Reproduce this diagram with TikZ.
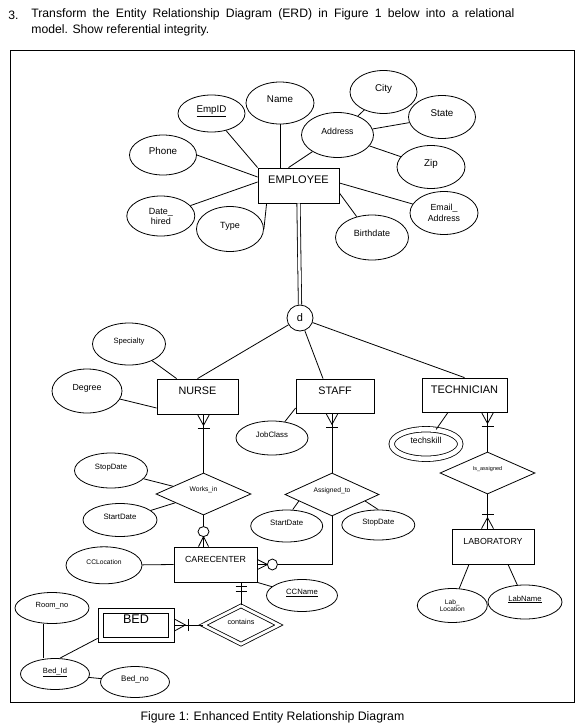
\documentclass[tikz,border=0pt]{standalone}
\usepackage{fontspec}
\setmainfont{Liberation Sans}
\usetikzlibrary{shapes.geometric, calc}
\newcommand{\fsz}[1]{\fontsize{#1}{#1}\selectfont}
\tikzset{
  entity/.style 2 args     = {rectangle, draw, minimum width=#1pt, minimum height=#2pt,
                              inner sep=0pt, text height=7pt, text depth=11pt,
                              font=\fsz{11}},
  weakentity/.style 2 args = {entity={#1}{#2},
                              path picture={\draw ([shift={(5.5,5)}]path picture bounding box.north west)
                                rectangle ([shift={(-5.5,-5)}]path picture bounding box.south east);}},
  attr/.style 2 args       = {ellipse, draw, minimum width=#1pt, minimum height=#2pt,
                              inner sep=0pt, text height=6pt, text depth=8pt,
                              font=\fsz{9.8}},
  attrml/.style 2 args     = {ellipse, draw, minimum width=#1pt, minimum height=#2pt,
                              inner sep=0pt, align=center, font=\fsz{9}},
  multiattr/.style 2 args  = {attr={#1}{#2}, double, double distance=4.6pt},
  rel/.style 2 args        = {diamond, aspect=2.2, draw, minimum width=#1pt,
                              minimum height=#2pt, inner sep=0pt, text height=5pt,
                              text depth=10pt, font=\fsz{6.7}},
  weakrel/.style 2 args    = {rel={#1}{#2}, double, double distance=2.8pt},
  isa/.style               = {circle, draw, minimum size=26pt, inner sep=0pt,
                              font=\fsz{11}},
  % cardinality marks, drawn outward from the entity border
  pics/onemany/.style      = {code={\draw (-6,0) -- (0,11) -- (6,0);
                                    \draw (-6,14) -- (6,14);}},
  pics/zeromany/.style     = {code={\draw (-5,0) -- (0,10) -- (5,0);
                                    \draw[fill=white] (0,15) ellipse [x radius=5.5, y radius=5];}},
  pics/oneone/.style       = {code={\draw (-5.5,4) -- (5.5,4) (-5.5,9) -- (5.5,9);}},
}

\begin{document}
\begin{tikzpicture}[x=1pt, y=-1pt, line width=0.8pt]
  \useasboundingbox (0,0) rectangle (577,723);

  %─── Question text ─────────────────────────────────────────────────────────
  \node[anchor=north west, inner sep=0pt, font=\fontsize{12.2}{16}\selectfont] at (8,10.5) (num) {3.};
  \node[anchor=north west, inner sep=0pt, text width=483pt, align=justify,
        font=\fontsize{12.2}{16}\selectfont] at (31,8) (task)
        {Transform the Entity Relationship Diagram (ERD) in Figure 1 below into a relational\linebreak
         model. Show referential integrity.};

  %─── Frame and caption ─────────────────────────────────────────────────────
  \draw (10,50) rectangle (574,702);
  \node[font=\fsz{12.3}] at (272.5,717) (caption) {Figure 1: Enhanced Entity Relationship Diagram};

  %─── EMPLOYEE and its attributes ───────────────────────────────────────────
  \node[entity={81}{35}] at (298.5,185.5) (employee) {EMPLOYEE};
  \node[attr={67}{37}]  at (211.5,113.5) (empid)     {\underline{EmpID}};
  \node[attr={68}{42}]  at (280,103)     (name)      {Name};
  \node[attr={67}{43}]  at (383.5,92)    (city)      {City};
  \node[attr={67}{43}]  at (442,117)     (state)     {State};
  \node[attr={72}{45}, font=\fsz{8.8}] at (337.5,135) (address) {Address};
  \node[attr={68}{43}]  at (431,167)     (zip)       {Zip};
  \node[attr={67}{40}]  at (163,155)     (phone)     {Phone};
  \node[attrml={68}{40}] at (160.8,216)  (datehired) {Date\_\\[1pt]hired};
  \node[attr={67}{45}, font=\fsz{9}] at (230,229)     (type)      {Type};
  \node[attr={73}{45}, font=\fsz{9}] at (372,237.5)   (birthdate) {Birthdate};
  \node[attrml={68}{43}, font=\fsz{8.8}] at (444,213) (email) {Email\_\\[1.5pt]Address};

  %─── Disjoint specialisation ───────────────────────────────────────────────
  \node[isa] at (300,318) (disjoint) {d};
  \node[entity={81}{35}, font=\fsz{10.8}] at (197.5,396.5) (nurse)      {NURSE};
  \node[entity={78}{34}, font=\fsz{10.8}] at (335,396)     (staff)      {STAFF};
  \node[entity={85}{34}]                  at (464.5,395)   (technician) {TECHNICIAN};

  %─── Subtype attributes ────────────────────────────────────────────────────
  \node[attr={73}{42}, font=\fsz{7.6}] at (129,344)   (specialty) {Specialty};
  \node[attr={70}{44}, font=\fsz{8.8}] at (87,391)    (degree)    {Degree};
  \node[attr={72}{34}, font=\fsz{7.8}] at (272,438)   (jobclass)  {JobClass};
  \node[multiattr={68.5}{29.5}, font=\fsz{8.7}] at (426,444) (techskill) {techskill};

  %─── Relationships ─────────────────────────────────────────────────────────
  \node[rel={95}{42}] at (203.5,494) (worksin)    {Works\_in};
  \node[rel={94}{43}] at (332,494.5) (assignedto) {Assigned\_to};
  \node[rel={95}{42}, font=\fsz{5.5}] at (487.5,473) (isassigned) {Is\_assigned};
  \node[weakrel={76}{38.5}, font=\fsz{7.2}, text depth=6pt] at (241,625) (contains) {contains};

  \node[attr={73}{35}, font=\fsz{7.7}] at (111,470.5) (stopdatea)  {StopDate};
  \node[attr={74}{33}, font=\fsz{7.8}] at (120,520)   (startdatea) {StartDate};
  \node[attr={72}{32}, font=\fsz{7.8}] at (286.7,526) (startdateb) {StartDate};
  \node[attr={73}{30}, font=\fsz{7.7}] at (378.3,525) (stopdateb)  {StopDate};

  %─── CARECENTER, LABORATORY, BED ───────────────────────────────────────────
  \node[entity={83}{35}, font=\fsz{8.85}] at (215.5,564.5) (carecenter) {CARECENTER};
  \node[attr={76}{37}, font=\fsz{6.7}] at (104,565.3) (cclocation) {CCLocation};
  \node[attr={71}{32}, font=\fsz{7.7}] at (302,595.5) (ccname)     {\underline{CCName}};

  \node[entity={82}{35}, font=\fsz{8.8}] at (493,546.5) (laboratory) {LABORATORY};
  \node[attrml={70}{34}, font=\fsz{6.6}] at (452.3,605.5) (lablocation) {Lab\_\\Location};
  \node[attr={74}{34}, font=\fsz{7.7}] at (525,602) (labname) {\underline{LabName}};

  \node[weakentity={76}{34}, font=\fsz{12.6}] at (136,625) (bed) {BED};
  \node[attr={74}{31}, font=\fsz{7.5}] at (52,608)  (roomno) {Room\_no};
  \node[attr={69}{31}, font=\fsz{7.6}] at (55,674)  (bedid)  {\underline{Bed\_Id}};
  \node[attr={69}{31}, font=\fsz{8}]   at (135,682) (bedno)  {Bed\_no};

  %─── Edges ─────────────────────────────────────────────────────────────────
  % EMPLOYEE attributes
  \draw (empid) -- (employee.north west);
  \draw (name) -- (name |- employee.north);
  \draw (address) -- ([xshift=-10pt]employee.north);
  \draw (city) -- (address);
  \draw (state) -- (address);
  \draw (zip) -- (address);
  \draw (phone.east) -- ([yshift=8.5pt]employee.west);
  \draw (datehired) -- ([yshift=3.5pt]employee.west);
  \draw (type.east) -- ([xshift=9pt]employee.south west);
  \draw (birthdate) -- ([yshift=-7.5pt]employee.east);
  \draw (email) -- ([yshift=2.5pt]employee.east);

  % Total disjoint specialisation
  \draw[double, double distance=2.5pt] (employee.south) -- (disjoint.north);
  \draw (disjoint) -- (nurse.north);
  \draw (disjoint) -- ([xshift=-12pt]staff.north);
  \draw (disjoint) -- (technician.north);

  % NURSE side
  \draw (specialty) -- ([xshift=20pt]nurse.north west);
  \draw (degree) -- ([yshift=-11.5pt]nurse.west);
  \draw (worksin.north) -- (worksin.north |- nurse.south);
  \draw (stopdatea) -- (worksin);
  \draw (startdatea) -- (worksin);
  \draw (worksin.south) -- (worksin.south |- carecenter.north);

  % STAFF side
  \draw (jobclass) -- ([yshift=-12pt]staff.west);
  \draw (assignedto.north) -- (assignedto.north |- staff.south);
  \draw ([xshift=6pt]startdateb.north) -- ($(assignedto.west)!0.3!(assignedto.south)$);
  \draw (stopdateb.north) -- ($(assignedto.east)!0.3!(assignedto.south)$);
  \draw (assignedto.south) |- (carecenter.east);

  % TECHNICIAN side
  \draw (techskill) -- ([xshift=-16.5pt]technician.south);
  \draw (isassigned.north) -- (isassigned.north |- technician.south);
  \draw (isassigned.south) -- (isassigned.south |- laboratory.north);
  \draw (lablocation) -- ([xshift=-24pt]laboratory.south);
  \draw (labname) -- ([xshift=15pt]laboratory.south);

  % CARECENTER and BED
  \draw (cclocation) -- (carecenter.west);
  \draw (ccname) -- (carecenter.south east);
  \draw (contains.north) -- (contains.north |- carecenter.south);
  \draw (bed.east) -- (contains.west);
  \draw ([xshift=-9pt]roomno.south) -- ([xshift=-12pt]bedid.north);
  \draw ([xshift=5pt]bedid.north) -- ([yshift=4pt]bed.south west);
  \draw (bedid) -- (bedno);

  % Cardinality marks
  \pic at (worksin.north |- nurse.south) {onemany};
  \pic[rotate=180] at (worksin.south |- carecenter.north) {zeromany};
  \pic at (assignedto.north |- staff.south) {onemany};
  \pic[rotate=90] at (carecenter.east) {zeromany};
  \pic at (isassigned.north |- technician.south) {onemany};
  \pic[rotate=180] at (isassigned.south |- laboratory.north) {onemany};
  \pic at (contains.north |- carecenter.south) {oneone};
  \pic[rotate=90] at (bed.east) {onemany};

\end{tikzpicture}
\end{document}
